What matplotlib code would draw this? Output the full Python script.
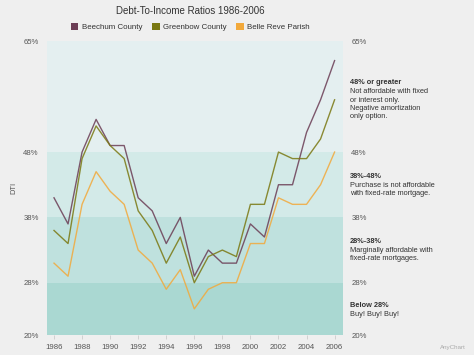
"""
Debt-to-income ratios 1986-2006, three counties, with affordability bands
"""

import matplotlib
matplotlib.use('Agg')
import matplotlib.pyplot as plt
from matplotlib.patches import Patch

years = list(range(1986, 2007))
beechum = [41, 37, 48, 53, 49, 49, 41, 39, 34, 38, 29, 33, 31, 31, 37, 35, 43, 43, 51, 56, 62]
greenbow = [36, 34, 47, 52, 49, 47, 39, 36, 31, 35, 28, 32, 33, 32, 40, 40, 48, 47, 47, 50, 56]
belle_reve = [31, 29, 40, 45, 42, 40, 33, 31, 27, 30, 24, 27, 28, 28, 34, 34, 41, 40, 40, 43, 48]

series_names = ['Beechum County', 'Greenbow County', 'Belle Reve Parish']
series_colors = ['#6b3d55', '#7a7812', '#f2a93b']

band_edges = [20, 28, 38, 48, 65]
band_colors = ['#aad8d2', '#bfe1de', '#d3eae8', '#e4eff0']
band_titles = ['Below 28%', '28%-38%', '38%-48%', '48% or greater']
band_notes = ['Buy! Buy! Buy!',
              'Marginally affordable with\nfixed-rate mortgages.',
              'Purchase is not affordable\nwith fixed-rate mortgage.',
              'Not affordable with fixed\nor interest only.\nNegative amortization\nonly option.']
tick_labels = ['20%', '28%', '38%', '48%', '65%']

plt.rcParams['font.family'] = ['Liberation Sans', 'DejaVu Sans']
txt = '#555555'

fig = plt.figure(figsize=(4.74, 3.55), dpi=100, facecolor='#efefef')
ax = fig.add_axes([47/474, 20/355, 296/474, 294/355])
ax.set_facecolor('#efefef')

for i in range(len(band_colors)):
    ax.axhspan(band_edges[i], band_edges[i+1], color=band_colors[i], lw=0, zorder=0)

for vals, name, c in zip([beechum, greenbow, belle_reve], series_names, series_colors):
    ax.plot(years, vals, color=c, lw=1.0, alpha=0.85, zorder=3)

ax.set_xlim(1985.5, 2006.6)
ax.set_ylim(20, 65)
ax.set_xticks(years[::2])
ax.set_xticklabels([str(y) for y in years[::2]])
ax.set_yticks(band_edges)
ax.set_yticklabels(tick_labels)
ax.tick_params(axis='y', length=0, pad=6, labelsize=5.6, labelcolor=txt,
               labelright=True)
ax.tick_params(axis='x', length=3, width=0.6, color='#cccccc', pad=3.5,
               labelsize=5.6, labelcolor=txt)
for s in ax.spines.values():
    s.set_visible(False)
ax.set_ylabel('DTI', fontsize=5.4, color=txt)
ax.yaxis.set_label_coords(-30/296, 0.5)

# band notes on the right (header offset below band top)
header_drop = [3.5, 3.7, 3.7, 6.4]
for top, head, note, d in zip(band_edges[1:], band_titles, band_notes, header_drop):
    ax.text(1.023, top - d, head, transform=ax.get_yaxis_transform(),
            fontsize=5.3, fontweight='bold', color='#333333', va='center', ha='left')
    ax.text(1.023, top - d - 0.85, note, transform=ax.get_yaxis_transform(),
            fontsize=5.3, color='#333333', va='top', ha='left', linespacing=1.25)

fig.text(190/474, 1 - 11/355, 'Debt-To-Income Ratios 1986-2006', ha='center',
         va='center', fontsize=7, color='#333333')
handles = [Patch(facecolor=c, edgecolor='none') for c in series_colors]
fig.legend(handles, series_names, loc='center', bbox_to_anchor=(190/474, 1 - 27/355),
           ncol=3, frameon=False, fontsize=5.7, handlelength=1.0, handleheight=1.0,
           handletextpad=0.4, columnspacing=1.2, labelcolor='#333333')
fig.text(466/474, 1 - 348/355, 'AnyChart', ha='right', va='center', fontsize=4.5,
         color='#aaaaaa')

fig.savefig('out.png', dpi=100, facecolor=fig.get_facecolor())
